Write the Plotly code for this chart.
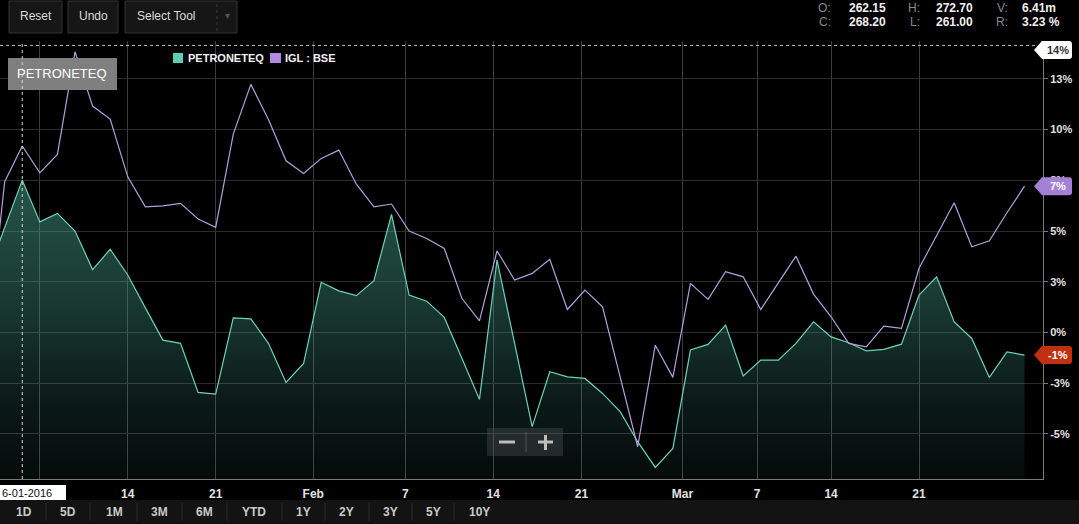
import plotly.graph_objects as go

# ---------------- data ----------------
DATES = ["2016-01-04", "2016-01-05", "2016-01-06", "2016-01-07", "2016-01-08",
         "2016-01-11", "2016-01-12", "2016-01-13", "2016-01-14", "2016-01-15",
         "2016-01-18", "2016-01-19", "2016-01-20", "2016-01-21", "2016-01-22",
         "2016-01-25", "2016-01-27", "2016-01-28", "2016-01-29",
         "2016-02-01", "2016-02-02", "2016-02-03", "2016-02-04", "2016-02-05",
         "2016-02-08", "2016-02-09", "2016-02-10", "2016-02-11", "2016-02-12",
         "2016-02-15", "2016-02-16", "2016-02-17", "2016-02-18", "2016-02-19",
         "2016-02-22", "2016-02-23", "2016-02-24", "2016-02-25", "2016-02-26",
         "2016-02-29", "2016-03-01", "2016-03-02", "2016-03-03", "2016-03-04",
         "2016-03-08", "2016-03-09", "2016-03-10", "2016-03-11",
         "2016-03-14", "2016-03-15", "2016-03-16", "2016-03-17", "2016-03-18",
         "2016-03-21", "2016-03-22", "2016-03-23",
         "2016-03-28", "2016-03-29", "2016-03-30", "2016-03-31"]

PETRONET = [2.83, 5.18, 7.51, 5.45, 5.87, 5.0, 3.1, 4.1, 2.83, 1.21,
            -0.38, -0.54, -2.96, -3.04, 0.72, 0.67, -0.54, -2.47, -1.53, 2.47,
            2.05, 1.81, 2.55, 5.82, 1.84, 1.54, 0.74, -1.28, -3.30, 3.57,
            -0.54, -4.65, -1.94, -2.19, -2.27, -3.01, -3.91, -5.39, -6.66, -5.72,
            -0.87, -0.59, 0.36, -2.15, -1.37, -1.37, -0.54, 0.52, -0.22, -0.51,
            -0.91, -0.84, -0.58, 1.84, 2.74, 0.52, -0.30, -2.22, -0.96, -1.12]

IGL = [-0.56, 7.43, 9.19, 7.87, 8.78, 13.84, 11.16, 10.52, 7.67, 6.19,
       6.24, 6.36, 5.59, 5.18, 9.78, 12.23, 10.5, 8.46, 7.84, 8.58,
       8.99, 7.31, 6.19, 6.33, 5.0, 4.63, 4.14, 1.68, 0.57, 4.02,
       2.58, 2.91, 3.61, 1.13, 2.09, 1.26, -2.19, -5.64, -0.63, -2.22,
       2.42, 1.63, 2.99, 2.74, 1.13, 2.45, 3.76, 1.89, 0.77, -0.54,
       -0.71, 0.31, 0.20, 3.16, 4.78, 6.39, 4.22, 4.52, 5.90, 7.21]

SERIES_NAMES = ["PETRONETEQ", "IGL : BSE"]

X_TICK_TEXT = ["7", "14", "21", "Feb", "7", "14", "21", "Mar", "7", "14", "21"]
X_TICK_POS = [3, 8, 13, 18.55, 23.78, 28.78, 33.8, 39.55, 43.79, 48, 53]

Y_TICK_VALS = [-5, -2.5, 0, 2.5, 5, 7.5, 10, 12.5]
Y_TICK_TEXT = ["-5%", "-3%", "0%", "3%", "5%", "8%", "10%", "13%"]

OHLC_LABELS = [["O:", "262.15"], ["H:", "272.70"], ["V:", "6.41m"],
               ["C:", "268.20"], ["L:", "261.00"], ["R:", "3.23 %"]]
RANGE_BUTTONS = ["1D", "5D", "1M", "3M", "6M", "YTD", "1Y", "2Y", "3Y", "5Y", "10Y"]

CROSS_IDX = 2          # 06-01-2016
CROSS_VAL = 14.15
CROSS_DATE = "6-01-2016"

Y_RANGE = [-7.23, 14.37]
X_RANGE = [0.734, 60.05]

# ---------------- layout helpers ----------------
W, H = 1079, 524
PL, PR, PT, PB = 0, 1043, 41, 479


def px(x):
    return (x - PL) / (PR - PL)


def py(y):
    return (PB - y) / (PB - PT)


FONT = "Liberation Sans, Arial, sans-serif"
xs = list(range(len(DATES)))

GREEN = "#6dd2ba"
PURPLE = "#b3a0dc"

fig = go.Figure()

fig.add_trace(go.Scatter(x=xs, y=[Y_RANGE[0]] * len(xs), mode="lines",
                         line=dict(width=0, color="rgba(0,0,0,0)"),
                         showlegend=False, hoverinfo="skip"))
fig.add_trace(go.Scatter(
    x=xs, y=PETRONET, mode="lines", name=SERIES_NAMES[0],
    line=dict(color=GREEN, width=1.2),
    fill="tonexty",
    fillgradient=dict(type="vertical", start=Y_RANGE[0], stop=7.6,
                      colorscale=[[0, "rgba(70,160,140,0.07)"],
                                  [0.25, "rgba(70,160,140,0.16)"],
                                  [0.6, "rgba(70,160,140,0.36)"],
                                  [1, "rgba(70,160,140,0.53)"]]),
    showlegend=False, hoverinfo="skip"))
fig.add_trace(go.Scatter(x=xs, y=IGL, mode="lines", name=SERIES_NAMES[1],
                         line=dict(color=PURPLE, width=1.2),
                         showlegend=False, hoverinfo="skip"))

shapes = []
ann = []


def text(t, x, y, size=12, color="#dcdcdc", xanchor="center", bold=False, yref="paper", ypix=True):
    ann.append(dict(text=("<b>%s</b>" % t) if bold else t,
                    x=px(x), y=py(y) if ypix else y, xref="paper", yref=yref,
                    xanchor=xanchor, yanchor="middle", showarrow=False,
                    font=dict(family=FONT, size=size, color=color)))


def rect(x0, x1, y0, y1, fill, line=None):
    shapes.append(dict(type="rect", xref="paper", yref="paper",
                       x0=px(x0), x1=px(x1), y0=py(y1), y1=py(y0),
                       fillcolor=fill, line=line or dict(width=0), layer="above"))


def vline(x, y0, y1, color, dash=None):
    shapes.append(dict(type="line", xref="paper", yref="paper", x0=px(x), x1=px(x),
                       y0=py(y1), y1=py(y0),
                       line=dict(color=color, width=1, dash=dash) if dash else dict(color=color, width=1),
                       layer="above"))


# ---- top toolbar buttons ----
rect(9, 62, 1, 33, "#161616", dict(color="#353535", width=1))
rect(68, 118, 1, 33, "#161616", dict(color="#353535", width=1))
rect(125, 237, 1, 33, "#161616", dict(color="#353535", width=1))
text("Reset", 35.5, 16)
text("Undo", 93, 16)
text("Select Tool", 166, 16)
vline(217, 3, 31, "#3a3a3a", "dot")
text("▾", 227, 16, size=10, color="#555")

# ---- OHLC readout ----
col_lbl_x = [833, 922, 1010]
col_val_x = [847, 934, 1020]
for k, (lbl, val) in enumerate(OHLC_LABELS):
    row, col = divmod(k, 3)
    yy = 8 if row == 0 else 22
    text(lbl, col_lbl_x[col], yy, color="#8a8a8a", xanchor="right")
    text(val, col_val_x[col], yy, color="#f0f0f0", xanchor="left", bold=True)

# ---- legend ----
rect(173, 183, 53, 63, "#5ecdb6")
text(SERIES_NAMES[0], 185.5, 58, size=11, color="#f2f2f2", xanchor="left", bold=True)
rect(270, 281, 53, 63, "#b18ae0")
text(SERIES_NAMES[1], 283, 58, size=11, color="#f2f2f2", xanchor="left", bold=True)

# ---- symbol label box ----
rect(8, 117, 58, 90, "#7f7f7f")
text(SERIES_NAMES[0], 62, 74, size=13, color="#ffffff")

# ---- crosshair ----
shapes.append(dict(type="line", xref="x", yref="paper", x0=CROSS_IDX, x1=CROSS_IDX,
                   y0=0, y1=1, line=dict(color="#d8d8d8", width=1, dash="3px,3px"),
                   layer="above"))
shapes.append(dict(type="line", xref="paper", yref="y", x0=0, x1=1,
                   y0=CROSS_VAL, y1=CROSS_VAL,
                   line=dict(color="#bdbdbd", width=1, dash="3px,3px"), layer="above"))
rect(-2, 66, 485, 500, "#ffffff")
text(CROSS_DATE, 0, 492.5, size=11, color="#111", xanchor="left")

# ---- value tags on right axis ----
TAG_PATH = "M-9,0 L-1,9 L26,9 Q29,9 29,6 L29,-6 Q29,-9 26,-9 L-1,-9 Z"
half = 0.44


def add_tag(value, fill, txtcolor, clamp=False):
    v = min(value, Y_RANGE[1] - half) if clamp else value
    shapes.append(dict(type="path", xref="paper", yref="y", xsizemode="pixel",
                       ysizemode="pixel", xanchor=1.0, yanchor=v, path=TAG_PATH,
                       fillcolor=fill, line=dict(width=0), layer="above"))
    text("%d%%" % round(value), 1058, v, size=11, color=txtcolor, bold=True,
         yref="y", ypix=False)


add_tag(CROSS_VAL, "#ffffff", "#333333", clamp=True)
add_tag(IGL[-1], "#a67fd7", "#ffffff")
add_tag(PETRONET[-1], "#c2310f", "#ffffff")

# ---- zoom control ----
rect(487, 563, 428, 456, "rgba(90,90,90,0.35)")
vline(526, 432, 452, "rgba(150,150,150,0.4)")
rect(499, 515, 440.5, 443.5, "#bdbdbd")
rect(538, 553, 440.5, 443.5, "#bdbdbd")
rect(544, 547, 435, 450, "#bdbdbd")

# ---- range selector bar ----
rect(0, W, 500, H, "#131313")
btn_x = [24, 68, 114, 159, 204, 254, 303, 346, 390, 433, 479]
div_x = [46, 90, 137, 182, 227, 282, 325, 369, 412, 454]
for dx in div_x:
    vline(dx, 503, 521, "#2b2b2b")
for bx, lbl in zip(btn_x, RANGE_BUTTONS):
    text(lbl, bx, 512, size=12, color="#c9c9c9", bold=True)

fig.update_layout(
    width=W, height=H,
    margin=dict(l=PL, r=W - PR, t=PT, b=H - PB, pad=0),
    paper_bgcolor="#000000", plot_bgcolor="#000000",
    showlegend=False,
    shapes=shapes, annotations=ann,
    hovermode=False,
    xaxis=dict(range=X_RANGE, tickvals=X_TICK_POS, ticktext=X_TICK_TEXT,
               showgrid=True, gridcolor="#3d3d3d", gridwidth=1,
               zeroline=False, showline=True, linecolor="#7a7a7a", linewidth=1,
               ticks="", ticklabelstandoff=4,
               tickfont=dict(family=FONT, size=12, color="#e2e2e2", weight="bold"),
               fixedrange=True),
    yaxis=dict(range=Y_RANGE, side="right", tickvals=Y_TICK_VALS, ticktext=Y_TICK_TEXT,
               showgrid=True, gridcolor="#2c2c2c", gridwidth=1,
               zeroline=False, showline=True, linecolor="#7a7a7a", linewidth=1,
               ticks="outside", ticklen=4, tickcolor="#7a7a7a",
               tickfont=dict(family=FONT, size=11, color="#e2e2e2", weight="bold"),
               fixedrange=True),
)

fig.write_html("out.html", config={"displayModeBar": False})
